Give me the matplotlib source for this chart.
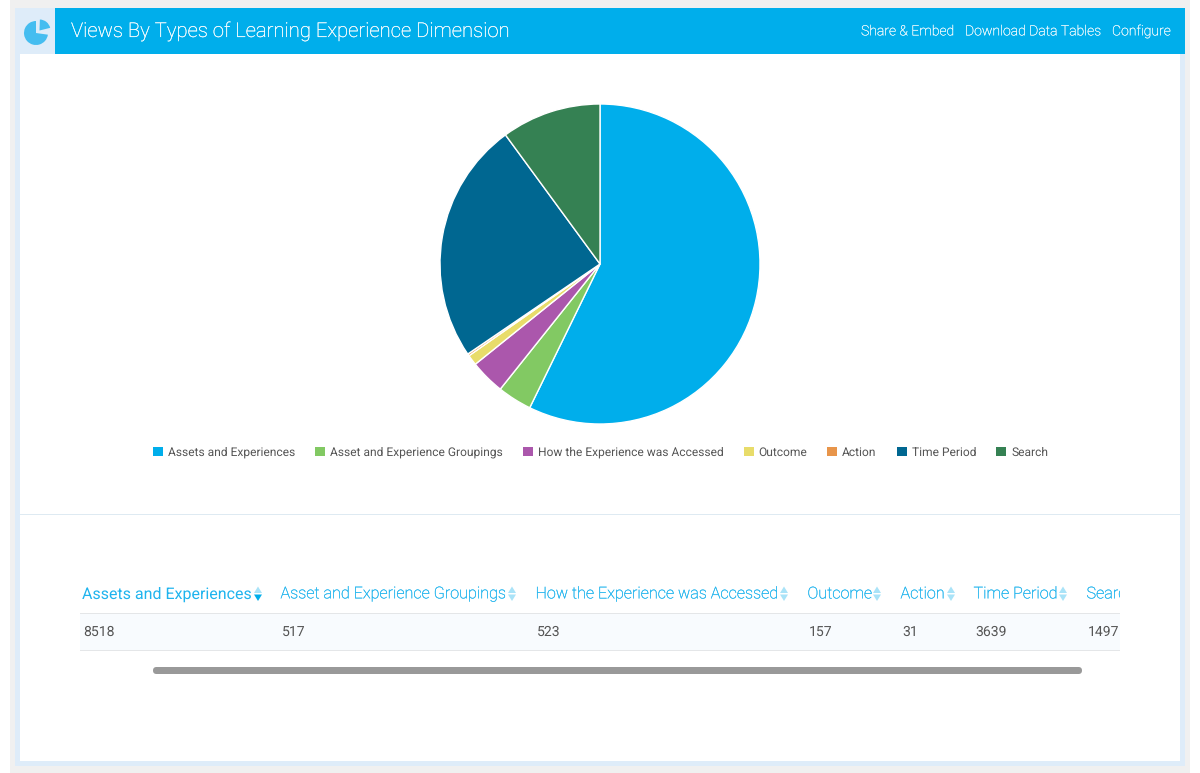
#!/usr/bin/env python3
"""Pie of views by learning experience dimension, with the dashboard chrome."""

import matplotlib

matplotlib.use("Agg")
import matplotlib.patheffects as pe
import matplotlib.pyplot as plt
from matplotlib.patches import FancyBboxPatch, Patch, Polygon, Rectangle, Wedge

W, H = 1200, 773

categories = [
    "Assets and Experiences",
    "Asset and Experience Groupings",
    "How the Experience was Accessed",
    "Outcome",
    "Action",
    "Time Period",
    "Search",
]
views = [8518, 517, 523, 157, 31, 3639, 1497]
colors = ["#00aeeb", "#82c963", "#ab57ac", "#e8dc6a", "#e8954a", "#006791", "#358153"]
header_links = ["Share & Embed", "Download Data Tables", "Configure"]
title = "Views By Types of Learning Experience Dimension"

plt.rcParams["font.family"] = ["Roboto", "DejaVu Sans"]
plt.rcParams["text.hinting"] = "none"
px = 0.72  # points per pixel at dpi 100
bolder = [pe.withStroke(linewidth=0.15, foreground="white")]
head_color = "#1fb4ee"
head_bolder = [pe.withStroke(linewidth=0.2, foreground=head_color)]

fig = plt.figure(figsize=(W / 100, H / 100), dpi=100, facecolor="white")

# page chrome, drawn in pixel coordinates
bg = fig.add_axes([0, 0, 1, 1])
bg.set_xlim(0, W)
bg.set_ylim(H, 0)
bg.axis("off")
bg.add_patch(Rectangle((10, 0), 1180, H, fc="#f0f0f0", lw=0))
bg.add_patch(Rectangle((15, 8), 1170, 758, fc="#deecf9", lw=0))
bg.add_patch(Rectangle((20, 54), 1160, 707, fc="white", lw=0))
bg.add_patch(Rectangle((55, 8), 1130, 46, fc="#00aeeb", lw=0))

# header icon
bg.add_patch(Wedge((36, 33), 12, 8, 270, fc="#45bdf0", lw=0))
bg.add_patch(Wedge((39.5, 30.5), 11, -88, -14, fc="#45bdf0", lw=0))

bg.text(71, 31.5, title, color="white", fontsize=20.3 * px, fontweight="light",
        va="center", path_effects=bolder)
for label, x in zip(header_links, [861, 965, 1112]):
    bg.text(x, 31.5, label, color="white", fontsize=14 * px, fontweight="light",
            va="center", path_effects=bolder)

# pie
ax = fig.add_axes([440 / W, 1 - 424 / H, 320 / W, 320 / H])
wedges, _ = ax.pie(
    views,
    colors=colors,
    startangle=90,
    counterclock=False,
    radius=1,
    wedgeprops={"edgecolor": "white", "linewidth": 1},
)
ax.set_xlim(-1, 1)
ax.set_ylim(-1, 1)

handles = [Patch(fc=c, lw=0, label=n) for c, n in zip(colors, categories)]
fig.legend(
    handles=handles,
    loc="center",
    bbox_to_anchor=(600.5 / W, 1 - 452.5 / H),
    ncol=len(categories),
    frameon=False,
    fontsize=12 * px,
    labelcolor="#555555",
    handlelength=10 / 12,
    handleheight=10 / 12,
    handletextpad=5 / 12,
    columnspacing=20 / 12,
    borderpad=0,
    borderaxespad=0,
)

bg.add_patch(Rectangle((20, 514), 1160, 1, fc="#deeaf2", lw=0))

# table
bg.add_patch(Rectangle((80, 614), 1040, 36, fc="#f8fbfe", lw=0))
bg.add_patch(Rectangle((80, 613), 1040, 1, fc="#e4e6e8", lw=0))
bg.add_patch(Rectangle((80, 650), 1040, 1, fc="#e4e6e8", lw=0))
clip = Rectangle((80, 570), 1040, 90, transform=bg.transData)

head_x = [82.5, 280.5, 535.5, 807.5, 900.5, 973.5, 1086.5]
cell_x = [83.5, 282, 537, 809, 902, 975, 1088]
arrow_x = [258, 512, 784, 877, 951, 1063]
for i, name in enumerate(categories):
    active = i == 0
    t = bg.text(head_x[i], 594, name, color=head_color,
                fontsize=(16 if active else 16.2) * px,
                fontweight="normal" if active else "light", va="center", clip_on=True,
                path_effects=[] if active else head_bolder)
    t.set_clip_path(clip)
    t = bg.text(cell_x[i], 632, str(views[i]), color="#555555", fontsize=14 * px,
                va="center", clip_on=True)
    t.set_clip_path(clip)
for i, x in enumerate(arrow_x):
    down = "#00aeeb" if i == 0 else "#a9e3f8"
    bg.add_patch(Polygon([(x - 4, 593), (x + 4, 593), (x, 586.5)], fc="#a9e3f8", lw=0))
    bg.add_patch(Polygon([(x - 4, 594.5), (x + 4, 594.5), (x, 601)], fc=down, lw=0))

# scrollbar
bg.add_patch(FancyBboxPatch((153, 667), 929, 7, boxstyle="round,pad=0,rounding_size=3.5",
                            fc="#999999", lw=0))

fig.savefig("out.png", dpi=100)
